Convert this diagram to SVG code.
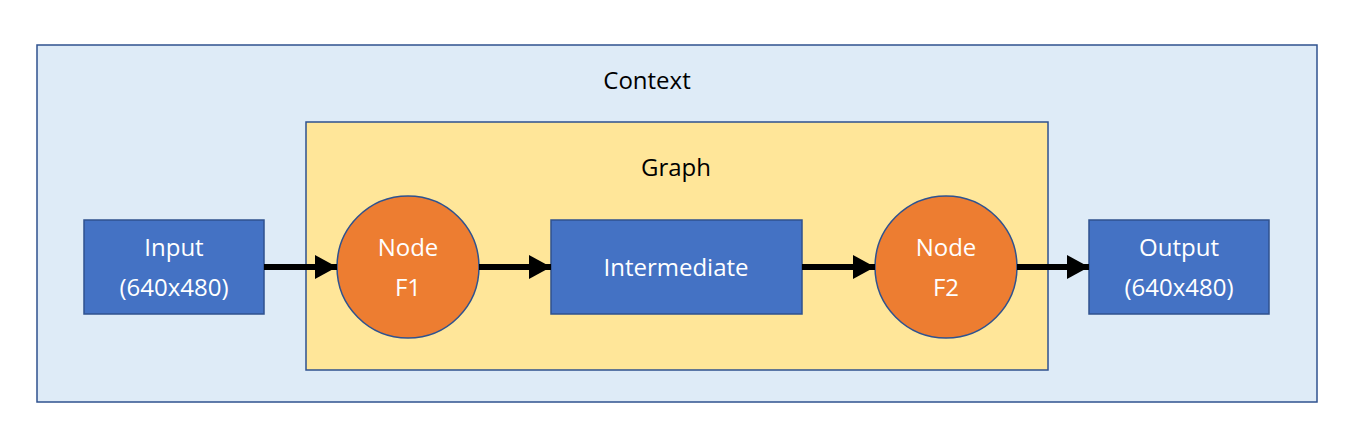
<svg xmlns="http://www.w3.org/2000/svg" width="1358" height="438" viewBox="0 0 1358 438">
<style>
text{font-family:"Open Sans","Liberation Sans",sans-serif;font-size:24px;text-anchor:middle}
.w{fill:#fff}
.b{fill:#4472c4;stroke:#2f528f;stroke-width:1.5}
.c{fill:#ed7d31;stroke:#2f528f;stroke-width:1.5}
.e{stroke:#000;stroke-width:6;fill:none}
</style>
<defs><marker id="a" markerUnits="userSpaceOnUse" markerWidth="22" markerHeight="24" refX="22" refY="12" orient="auto"><path d="M0,0L22,12L0,24Z" fill="#000"/></marker></defs>
<g id="context"><rect x="37" y="45" width="1280" height="357" fill="#deebf7" stroke="#2f528f" stroke-width="1.5"/><text x="647" y="89" fill="#000">Context</text></g>
<g id="graph"><rect x="306" y="122" width="742" height="248" fill="#ffe699" stroke="#2f528f" stroke-width="1.5"/><text x="676" y="176" fill="#000">Graph</text></g>
<g id="input"><rect class="b" x="84" y="220" width="180" height="94"/><text class="w" x="174" y="256">Input</text><text class="w" x="174" y="296">(640x480)</text></g>
<g id="f1"><circle class="c" cx="408" cy="267" r="71"/><text class="w" x="408" y="256">Node</text><text class="w" x="408" y="296">F1</text></g>
<g id="intermediate"><rect class="b" x="551" y="220" width="251" height="94"/><text class="w" x="676" y="276">Intermediate</text></g>
<g id="f2"><circle class="c" cx="946" cy="267" r="71"/><text class="w" x="946" y="256">Node</text><text class="w" x="946" y="296">F2</text></g>
<g id="output"><rect class="b" x="1089" y="220" width="180" height="94"/><text class="w" x="1179" y="256">Output</text><text class="w" x="1179" y="296">(640x480)</text></g>
<g id="connectors">
<path class="e" d="M264,267H337" marker-end="url(#a)"/>
<path class="e" d="M479,267H551" marker-end="url(#a)"/>
<path class="e" d="M802,267H875" marker-end="url(#a)"/>
<path class="e" d="M1017,267H1089" marker-end="url(#a)"/>
</g>
</svg>
